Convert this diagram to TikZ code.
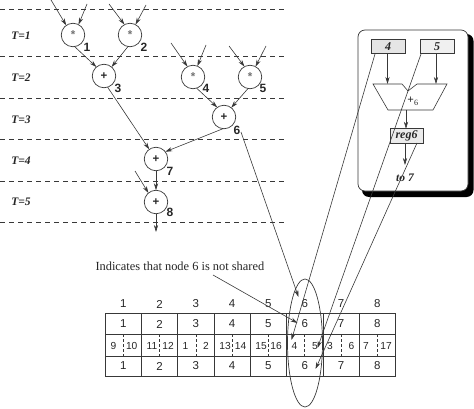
\documentclass[tikz,border=0pt]{standalone}
\usepackage{fontspec}
\setmainfont{Liberation Serif}
\setsansfont{Liberation Sans}
\usetikzlibrary{arrows.meta,shapes.geometric}
\definecolor{ink}{gray}{0.22}
\tikzset{
 x=1pt,y=-1pt,
 every node/.style={inner sep=0pt,outer sep=0pt,text=black!85},
 wire/.style={draw=ink,line width=0.6pt},
 arr/.style={wire,-{Stealth[length=7pt,width=4.2pt]}},
 op/.style={circle,draw=ink,line width=0.7pt,minimum size=23.5pt,fill=white,font=\sffamily\bfseries\fontsize{11.5}{11}\selectfont},
 num/.style={font=\sffamily\bfseries\fontsize{12}{12}\selectfont},
 tlabel/.style={font=\rmfamily\bfseries\itshape\fontsize{11.5}{12}\selectfont},
 level/.style={draw=ink,line width=0.6pt,dash pattern=on 5pt off 4pt},
 regbox/.style={rectangle,draw=ink,line width=0.6pt,fill=black!10,font=\rmfamily\bfseries\itshape\fontsize{12}{12}\selectfont},
 tab/.style={font=\sffamily\fontsize{11.5}{12}\selectfont},
 tabs/.style={font=\sffamily\fontsize{10.2}{11}\selectfont},
 cell/.style={rectangle,draw=ink,line width=0.6pt,minimum width=36.33pt,tab},
}
\begin{document}
\begin{tikzpicture}
\useasboundingbox (0,0) rectangle (474,409);
% time levels
\foreach \y/\n in {9/a,56/b,98/c,139/d,181/e,222/f}{
 \coordinate (l\n) at (0,\y); \coordinate (r\n) at (286,\y);
 \draw[level] (l\n) -- (r\n);
}
\foreach \y/\t in {36/1,78/2,120/3,161/4,202/5}
 \node[tlabel] (t\t) at (21,\y) {T=\t};
% operations
\node[op,text=black!55] (n1) at (73,35) {*};
\node[op,text=black!55] (n2) at (130,35) {*};
\node[op] (n3) at (104,76) {+};
\node[op,text=black!55] (n4) at (193,77) {*};
\node[op,text=black!55] (n5) at (250,77) {*};
\node[op] (n6) at (224,117) {+};
\node[op] (n7) at (156,159) {+};
\node[op] (n8) at (156,202) {+};
\node[num] (k1) at (87,47) {1};
\node[num] (k2) at (144,47) {2};
\node[num] (k3) at (118,88) {3};
\node[num] (k4) at (206,88) {4};
\node[num] (k5) at (263,88) {5};
\node[num] (k6) at (237,130) {6};
\node[num] (k7) at (170,171) {7};
\node[num] (k8) at (170,212) {8};
% free ends
\coordinate (i1a) at (51,0); \coordinate (i1b) at (87,4);
\coordinate (i2a) at (109,4); \coordinate (i2b) at (146,5);
\coordinate (i4a) at (171,43); \coordinate (i4b) at (206,45);
\coordinate (i5a) at (229,46); \coordinate (i5b) at (266,46);
\coordinate (i8) at (135,171); \coordinate (o8) at (156,232);
\draw[arr] (i1a) -- (n1.125);
\draw[arr] (i1b) -- (n1.62);
\draw[arr] (i2a) -- (n2.118);
\draw[arr] (i2b) -- (n2.62);
\draw[arr] (i4a) -- (n4.118);
\draw[arr] (i4b) -- (n4.68);
\draw[arr] (i5a) -- (n5.118);
\draw[arr] (i5b) -- (n5.62);
\draw[arr] (i8) -- (n8.130);
\draw[arr] (n1.-82) -- (n3.130);
\draw[arr] (n2.-100) -- (n3.50);
\draw[arr] (n3.-72) -- (n7.125);
\draw[arr] (n4.-72) -- (n6.125);
\draw[arr] (n5.-100) -- (n6.52);
\draw[arr] (n6.-95) -- (n7.38);
\draw[arr] (n7) -- (n8);
\draw[arr] (n8) -- (o8);
% hardware box
\fill[black,rounded corners=7pt] (362,34) rectangle (473.5,197);
\node[rectangle,draw=ink,line width=0.7pt,fill=white,rounded corners=7pt,minimum width=110pt,minimum height=161pt] (hw) at (413,110.5) {};
\node[regbox,minimum width=34pt,minimum height=14.5pt] (b4) at (388,46.5) {4};
\node[regbox,fill=black!6,minimum width=34pt,minimum height=14.5pt] (b5) at (437,46.5) {5};
\coordinate (t1) at (373,84); \coordinate (t2) at (402,84); \coordinate (t3) at (408,91);
\coordinate (t4) at (417,84); \coordinate (t5) at (447,84); \coordinate (t6) at (433,110);
\coordinate (t7) at (388,110);
\draw[wire,line join=miter] (t1) -- (t2) -- (t3) -- (t4) -- (t5) -- (t6) -- (t7) -- cycle;
\node[font=\rmfamily\bfseries\fontsize{11.5}{12}\selectfont] (adder) at (413,101) {+$_{\mathrm{6}}$};
\node[regbox,fill=black!8,minimum width=33pt,minimum height=14.5pt] (reg) at (406.5,136) {reg6};
\coordinate (a4) at (387.5,84); \coordinate (a5) at (436,84);
\coordinate (m1) at (406,110);
\coordinate (to) at (405,165);
\draw[arr] (b4.south -| a4) -- (a4);
\draw[arr] (b5.south -| a5) -- (a5);
\draw[arr] (m1) -- (m1 |- reg.north);
\draw[arr] (reg.south -| to) -- (to);
\node[font=\rmfamily\bfseries\itshape\fontsize{11.5}{12}\selectfont] (to7) at (405,178) {to 7};
% table
\foreach \i/\cx in {1/123.2,2/159.5,3/195.8,4/232.1,5/268.4,6/304.7,7/341,8/377.3}{
 \node[tab] (h\i) at (\cx,304) {\i};
 \node[cell,minimum height=20.7pt] (c\i) at (\cx,324) {\i};
 \node[cell,minimum height=21.7pt] (d\i) at (\cx,345.2) {};
 \node[cell,minimum height=20pt] (e\i) at (\cx,366) {\i};
 \draw[wire,line width=0.5pt,dash pattern=on 3pt off 2pt] (d\i.north) -- (d\i.south);
}
\node[tabs] (p1) at (113.5,346) {9}; \node[tabs] (q1) at (131.7,346) {10};
\node[tabs] (p2) at (152,346) {11}; \node[tabs] (q2) at (168,346) {12};
\node[tabs] (p3) at (185.5,346) {1}; \node[tabs] (q3) at (206,346) {2};
\node[tabs] (p4) at (225,346) {13}; \node[tabs] (q4) at (240.5,346) {14};
\node[tabs] (p5) at (261,346) {15}; \node[tabs] (q5) at (276,346) {16};
\node[tabs] (p6) at (294.5,346) {4}; \node[tabs] (q6) at (315,346) {5};
\node[tabs] (p7) at (330,346) {3}; \node[tabs] (q7) at (351.5,346) {6};
\node[tabs] (p8) at (366,346) {7}; \node[tabs] (q8) at (386,346) {17};
% sharing ellipse and note
\node[ellipse,draw=ink,line width=0.7pt,minimum width=35pt,minimum height=128pt] (ell) at (305,343) {};
\node[font=\rmfamily\fontsize{12.4}{13}\selectfont,anchor=base west] (note) at (95.5,270) {Indicates that node 6 is not shared};
% long connectors
\coordinate (s6) at (241,132); \coordinate (e6) at (298.5,297);
\coordinate (s4) at (375,54); \coordinate (e4) at (291.5,340);
\coordinate (s5) at (421,54); \coordinate (e5) at (317.5,348);
\coordinate (sr) at (417,143); \coordinate (er) at (315.5,369);
\coordinate (nt) at (213,275); \coordinate (ne) at (297.5,323);
\draw[arr] (s6) -- (e6);
\draw[arr] (s4) -- (e4);
\draw[arr] (s5) -- (e5);
\draw[arr] (sr) -- (er);
\draw[arr] (nt) -- (ne);
\end{tikzpicture}
\end{document}
